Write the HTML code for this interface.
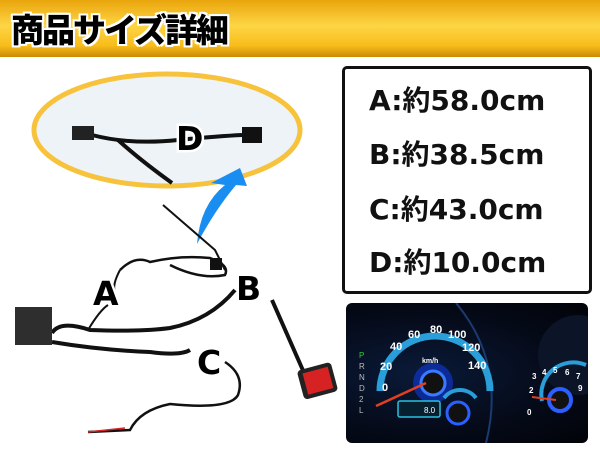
<!DOCTYPE html>
<html><head><meta charset="utf-8"><style>
html,body{margin:0;padding:0;}
body{width:600px;height:450px;position:relative;overflow:hidden;background:#fff;font-family:"Liberation Sans","Noto Sans CJK JP",sans-serif;}
.hdr{position:absolute;left:0;top:0;width:600px;height:57px;background:linear-gradient(#e9a50c 0%,#fdd545 45%,#f8bd1a 80%,#c98a06 100%);}
.hdr span{position:absolute;left:11px;top:6px;font-size:33px;font-weight:900;color:#000;font-family:"Noto Sans CJK JP",sans-serif;letter-spacing:-2px;
 text-shadow:2px 0 #fff,-2px 0 #fff,0 2px #fff,0 -2px #fff,2px 2px #fff,-2px -2px #fff,2px -2px #fff,-2px 2px #fff;line-height:44px;}
.box{position:absolute;left:342px;top:66px;width:244px;height:222px;border:3px solid #111;border-radius:5px;}
.box div{position:absolute;left:24px;font-family:"DejaVu Sans","Noto Sans CJK JP",sans-serif;font-weight:bold;font-size:28px;color:#111;line-height:30px;}
.dash{position:absolute;left:346px;top:303px;width:242px;height:140px;border-radius:6px;background:radial-gradient(ellipse at 30% 50%,#0a1a38 0%,#050a18 60%,#020308 100%);overflow:hidden;}
</style></head><body>
<div class="hdr"><span>商品サイズ詳細</span></div>

<svg style="position:absolute;left:0;top:0" width="340" height="450">
<ellipse cx="167" cy="130" rx="133" ry="56" fill="#eef3f7" stroke="#f8c33c" stroke-width="5"/>
<path d="M92 135 Q130 145 178 140 Q220 136 242 135" stroke="#111" stroke-width="4" fill="none"/>
<path d="M118 140 Q140 160 172 183" stroke="#111" stroke-width="4" fill="none"/>
<rect x="72" y="126" width="22" height="14" fill="#222"/>
<rect x="242" y="127" width="20" height="16" fill="#111"/>
<text x="176" y="150" font-family="DejaVu Sans" font-weight="bold" font-size="33" fill="#000" stroke="#fff" stroke-width="5" paint-order="stroke">D</text>
<path d="M197 244 Q200 205 225 185 L211 183 L240 168 L247 186 L236 185 Q215 210 197 244Z" fill="#1a8ef0"/>
<path d="M163 205 L215 250 L225 270" stroke="#111" stroke-width="2" fill="none"/>
<path d="M120 270 Q135 255 150 262 Q180 255 210 258 Q230 265 225 275 Q200 280 170 265" stroke="#111" stroke-width="2.5" fill="none"/>
<rect x="210" y="258" width="12" height="12" fill="#111"/>
<path d="M52 333 Q60 320 90 330 Q140 332 170 328 Q210 320 235 290" stroke="#111" stroke-width="4" fill="none"/>
<path d="M52 342 Q100 350 150 352 Q180 356 190 350" stroke="#111" stroke-width="4" fill="none"/>
<path d="M88 330 Q100 310 108 305" stroke="#111" stroke-width="2" fill="none"/>
<path d="M120 270 Q112 285 115 292" stroke="#111" stroke-width="2" fill="none"/>
<path d="M225 362 Q245 375 238 395 Q230 410 170 404 Q140 410 130 430 L88 432" stroke="#111" stroke-width="2.5" fill="none"/>
<path d="M88 432 L125 428" stroke="#d22" stroke-width="1.5"/>
<rect x="15" y="307" width="37" height="38" fill="#2e2e2e"/>
<path d="M272 300 L305 375" stroke="#111" stroke-width="4"/>
<rect x="300" y="366" width="35" height="30" rx="4" fill="#222" transform="rotate(-15 317 381)"/>
<rect x="305" y="370" width="26" height="22" fill="#d62222" transform="rotate(-15 317 381)"/>
<g font-family="DejaVu Sans" font-weight="bold" font-size="33" fill="#000" stroke="#fff" stroke-width="5" paint-order="stroke">
<text x="93" y="305">A</text><text x="236" y="300">B</text><text x="197" y="374">C</text></g>
</svg>

<div class="box">
<div style="top:17px">A:約58.0cm</div>
<div style="top:71px">B:約38.5cm</div>
<div style="top:126px">C:約43.0cm</div>
<div style="top:179px">D:約10.0cm</div>
</div>

<div class="dash">
<svg width="242" height="140">
<path d="M110 0 Q160 60 140 140" stroke="#1a3a70" stroke-width="2" fill="none"/>
<path d="M34 88 A55 55 0 1 1 144 88" stroke="#2a9ed8" stroke-width="7" fill="none"/>
<g font-family="Liberation Sans" font-weight="bold" font-size="11" fill="#fff">
<text x="36" y="88">0</text><text x="34" y="67">20</text><text x="44" y="47">40</text><text x="62" y="35">60</text><text x="84" y="30">80</text><text x="102" y="35">100</text><text x="116" y="48">120</text><text x="122" y="66">140</text>
<text x="76" y="60" font-size="7">km/h</text></g>
<circle cx="87" cy="80" r="20" fill="#1040ff" opacity="0.5"/>
<circle cx="87" cy="80" r="12" fill="#111" stroke="#3a7aff" stroke-width="3"/>
<path d="M30 103 L80 80" stroke="#e04020" stroke-width="2.5"/>
<rect x="52" y="98" width="42" height="16" rx="2" fill="#062030" stroke="#2ac0e0" stroke-width="1.5"/>
<text x="78" y="110" font-size="8" fill="#fff" font-family="Liberation Sans">8.0</text>
<circle cx="112" cy="110" r="11" fill="#111" stroke="#2a60ff" stroke-width="3"/>
<path d="M98 95 A20 20 0 0 1 130 95" stroke="#2a9ed8" stroke-width="4" fill="none"/>
<g font-family="Liberation Sans" font-size="8" fill="#bbb"><text x="13" y="55" fill="#3c3">P</text><text x="13" y="66">R</text><text x="13" y="77">N</text><text x="13" y="88">D</text><text x="13" y="99">2</text><text x="13" y="110">L</text></g>
<circle cx="232" cy="52" r="40" fill="#0c1428"/>
<path d="M196 98 A32 32 0 0 1 240 62" stroke="#2a9ed8" stroke-width="4" fill="none"/>
<circle cx="214" cy="97" r="11" fill="#111" stroke="#2a60ff" stroke-width="4"/>
<path d="M186 94 L210 97" stroke="#e04020" stroke-width="2"/>
<g font-family="Liberation Sans" font-weight="bold" font-size="8" fill="#fff"><text x="183" y="90">2</text><text x="186" y="76">3</text><text x="196" y="72">4</text><text x="207" y="70">5</text><text x="219" y="72">6</text><text x="230" y="76">7</text><text x="232" y="88">9</text><text x="181" y="112">0</text></g>
</svg>
</div>
</body></html>
